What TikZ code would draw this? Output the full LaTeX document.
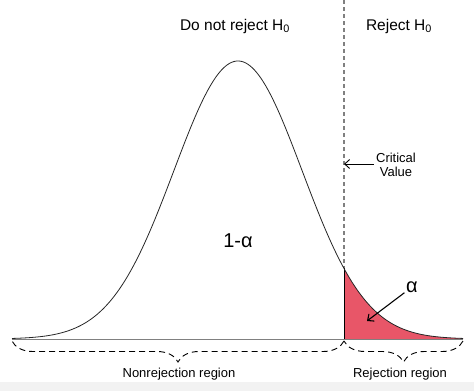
\documentclass[tikz,border=0pt]{standalone}
\usepackage{fontspec}
\setmainfont{Liberation Sans}
\usetikzlibrary{arrows.meta,decorations.pathreplacing}

\definecolor{tailred}{RGB}{232,86,104}
\newcommand{\bellfn}[1]{339-278*exp(-0.5*((#1-238)/64)^2)}

\tikzset{
  bell/.style={line width=0.8pt, black!85},
  critline/.style={gray, line width=1.1pt, dash pattern=on 4pt off 3pt},
  bracedash/.style={decorate, decoration={brace,amplitude=21pt}, line width=0.9pt, dash pattern=on 6pt off 4pt},
  pointer/.style={-{Straight Barb[length=5pt,width=9pt]}, line width=0.9pt},
  biglabel/.style={font=\fontsize{15.5}{18}\selectfont, inner sep=0pt},
  smalllabel/.style={font=\fontsize{13}{14.5}\selectfont, inner sep=0pt},
  greek/.style={font=\fontsize{20}{22}\selectfont, inner sep=0pt},
}

\begin{document}
\begin{tikzpicture}[x=1pt,y=-1pt]
  \useasboundingbox (0,0) rectangle (474,391);
  \fill[black!5] (0,382) rectangle (474,391);

  % rejection tail
  \fill[tailred] (344,339) -- plot[domain=344:463,samples=60] (\x,{\bellfn{\x}}) -- (463,339) -- cycle;
  \draw[line width=0.6pt] (344,339) -- (344,{\bellfn{344}});
  \draw[critline] (344,0) -- (344,{\bellfn{344}});
  \draw[gray, line width=1pt] (12,339) -- (463,339);
  \draw[bell] plot[domain=12:463,samples=200] (\x,{\bellfn{\x}});

  \node[biglabel, anchor=base] (keep) at (235,30) {Do not reject H\textsubscript{0}};
  \node[biglabel, anchor=base] (rej) at (399,30) {Reject H\textsubscript{0}};

  \node[smalllabel, align=center] (cv) at (396,165) {Critical\\Value};
  \coordinate (crit) at (344,164);
  \draw[pointer, shorten <=2pt] (cv.west |- crit) -- (crit);

  \node[greek] (body) at (238,241) {1-α};
  \node[greek] (alpha) at (412,287) {α};
  \coordinate (tip) at (367,321);
  \draw[pointer, line width=1.1pt, shorten <=2pt] (alpha) -- (tip);

  % regions
  \draw[bracedash] (344,341) -- (12,341);
  \draw[bracedash] (463,341) -- (344,341);
  \node[smalllabel, anchor=base] (nonrej) at (179,377) {Nonrejection region};
  \node[smalllabel, anchor=base] (rejreg) at (400,377) {Rejection region};
\end{tikzpicture}
\end{document}
